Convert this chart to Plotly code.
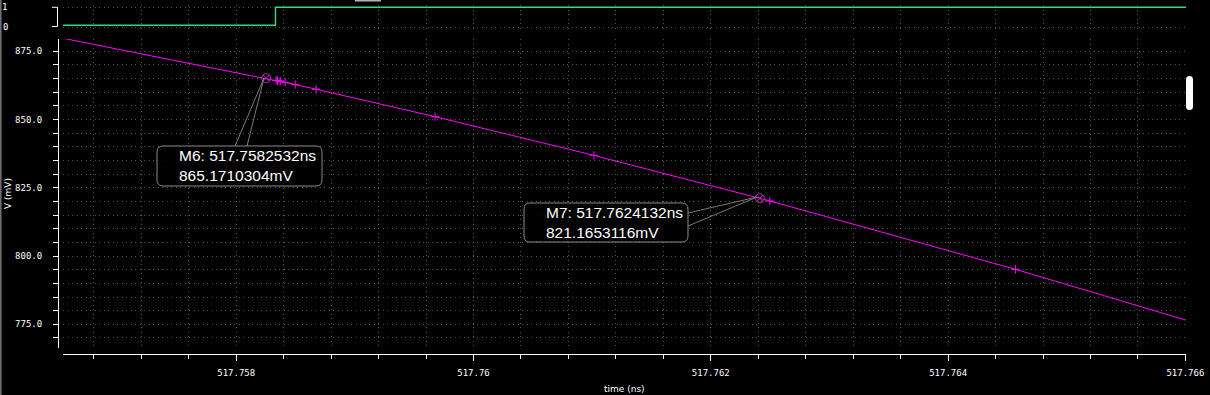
import plotly.graph_objects as go

W, H = 1210, 395

# ---- data ----
time_ns = [517.7560, 517.758337, 517.758348, 517.758371, 517.758413, 517.758497,
           517.758674, 517.759676, 517.761015, 517.762497, 517.764568, 517.7668]
voltage_mV = [884.44, 864.37, 864.26, 864.04, 863.63, 862.82,
              861.09, 851.05, 836.88, 820.19, 795.13, 766.25]

digital_time_ns = [517.7560, 517.758331, 517.7668]
digital_level = [0, 1, 1]

marker_names = ["M6", "M7"]
marker_time_ns = [517.7582532, 517.7624132]
marker_mV = [865.1710304, 821.1653116]

x_tick_vals = [517.758, 517.760, 517.762, 517.764, 517.766]
x_tick_text = ["517.758", "517.76", "517.762", "517.764", "517.766"]
y_tick_vals = [775, 800, 825, 850, 875]
y_tick_text = ["775.0", "800.0", "825.0", "850.0", "875.0"]
dig_tick_text = ["0", "1"]


def px(x):
    return x / W


def py(y):
    return 1 - y / H


GRID = "#555555"
DASH = "1px,3.5px"
TICKFONT = dict(family="DejaVu Sans Mono", size=9, color="white")

fig = go.Figure()

fig.add_trace(go.Scatter(
    x=time_ns, y=voltage_mV, mode="lines+markers",
    line=dict(color="#ff00ff", width=1),
    marker=dict(symbol="cross-thin", size=6, line=dict(color="#ff00ff", width=1)),
    xaxis="x", yaxis="y", showlegend=False, hoverinfo="skip"))

fig.add_trace(go.Scatter(
    x=marker_time_ns, y=marker_mV, mode="markers",
    marker=dict(symbol="circle-x-open", size=9, line=dict(color="#b02cb0", width=1), color="#b02cb0"),
    xaxis="x", yaxis="y", showlegend=False, hoverinfo="skip"))

fig.add_trace(go.Scatter(
    x=digital_time_ns, y=digital_level, mode="lines", line_shape="hv",
    line=dict(color="#3ad680", width=1.4),
    xaxis="x2", yaxis="y2", showlegend=False, hoverinfo="skip"))

xr = [517.75654, 517.766005]
xdom = [px(63), px(1186)]

fig.update_layout(
    width=W, height=H,
    margin=dict(l=0, r=0, t=0, b=0, autoexpand=False),
    paper_bgcolor="black", plot_bgcolor="black",
    xaxis=dict(
        domain=xdom, range=xr, anchor="free", position=py(354),
        showline=True, linecolor="white", linewidth=1,
        ticks="outside", ticklen=6, tickwidth=1, tickcolor="white",
        tickmode="array", tickvals=x_tick_vals, ticktext=x_tick_text,
        tickfont=TICKFONT, ticklabelstandoff=4,
        showgrid=True, gridcolor=GRID, griddash=DASH, gridwidth=1,
        minor=dict(tickmode="linear", tick0=517.758, dtick=0.0004, ticks="outside",
                   ticklen=4, tickwidth=1, tickcolor="white",
                   showgrid=True, gridcolor=GRID, griddash=DASH, gridwidth=1),
        zeroline=False, automargin=False, fixedrange=True),
    yaxis=dict(
        domain=[py(348), py(39)], range=[766.32, 879.5], anchor="free", position=px(58),
        showline=True, linecolor="white", linewidth=1,
        ticks="outside", ticklen=5, tickwidth=1, tickcolor="white",
        tickmode="array", tickvals=y_tick_vals, ticktext=y_tick_text,
        tickfont=TICKFONT, ticklabelstandoff=9,
        showgrid=True, gridcolor=GRID, griddash=DASH, gridwidth=1,
        minor=dict(tickmode="linear", tick0=775, dtick=5, ticks="outside",
                   ticklen=5, tickwidth=1, tickcolor="white",
                   showgrid=True, gridcolor=GRID, griddash=DASH, gridwidth=1),
        zeroline=False, automargin=False, fixedrange=True),
    xaxis2=dict(
        domain=xdom, range=xr, anchor="y2", showline=False, ticks="",
        showticklabels=False, showgrid=True, gridcolor=GRID, griddash=DASH,
        tickmode="linear", tick0=517.758, dtick=0.0004,
        zeroline=False, automargin=False, fixedrange=True),
    yaxis2=dict(
        domain=[py(29), py(5)], range=[-0.2056, 1.1278], anchor="x2",
        showline=False, ticks="", showticklabels=False,
        tickmode="array", tickvals=[-0.111, 1],
        showgrid=True, gridcolor=GRID, griddash=DASH,
        zeroline=False, automargin=False, fixedrange=True),
)

shapes = []
# top digital axis bracket
wline = dict(color="white", width=1)
shapes.append(dict(type="line", xref="paper", yref="paper", x0=px(52), x1=px(57.5), y0=py(7.3), y1=py(7.3), line=wline))
shapes.append(dict(type="line", xref="paper", yref="paper", x0=px(57.5), x1=px(57.5), y0=py(7.3), y1=py(26.5), line=wline))
shapes.append(dict(type="line", xref="paper", yref="paper", x0=px(52), x1=px(57.5), y0=py(26.5), y1=py(26.5), line=wline))
# left edge grey bar
shapes.append(dict(type="rect", xref="paper", yref="paper", x0=0, x1=px(1.6), y0=0, y1=1,
                   fillcolor="#6e6e6e", line=dict(width=0)))
# small grey rect top
shapes.append(dict(type="rect", xref="paper", yref="paper", x0=px(355), x1=px(381), y0=py(1.5), y1=1,
                   fillcolor="#b4b4b4", line=dict(width=0)))


def rrect(x0, y0, x1, y1, r):
    # rounded rectangle in pixel coords -> paper path
    def P(x, y):
        return f"{px(x):.6f},{py(y):.6f}"
    return (f"M {P(x0 + r, y0)} L {P(x1 - r, y0)} Q {P(x1, y0)} {P(x1, y0 + r)} "
            f"L {P(x1, y1 - r)} Q {P(x1, y1)} {P(x1 - r, y1)} L {P(x0 + r, y1)} "
            f"Q {P(x0, y1)} {P(x0, y1 - r)} L {P(x0, y0 + r)} Q {P(x0, y0)} {P(x0 + r, y0)} Z")


# right white scroll handle
shapes.append(dict(type="path", xref="paper", yref="paper", path=rrect(1186, 76, 1193, 110, 3.5),
                   fillcolor="white", line=dict(width=0)))

# marker callouts
gline = dict(color="#7a7a7a", width=1)
callouts = [
    dict(box=(157, 146, 322, 186), legs=[(235, 146), (247, 146)], tip=(264, 78), text_xy=(177, 165)),
    dict(box=(524, 203, 688, 242), legs=[(688, 213), (688, 226)], tip=(757, 197), text_xy=(544, 222)),
]
for c in callouts:
    for lx, ly in c["legs"]:
        shapes.append(dict(type="line", xref="paper", yref="paper",
                           x0=px(lx), y0=py(ly), x1=px(c["tip"][0]), y1=py(c["tip"][1]), line=gline))
    bx0, by0, bx1, by1 = c["box"]
    shapes.append(dict(type="path", xref="paper", yref="paper", path=rrect(bx0, by0, bx1, by1, 6),
                       fillcolor="rgba(0,0,0,0.85)", line=dict(color="#8a8a8a", width=1)))

fig.update_layout(shapes=shapes)

ann = []
for name, t, v, c in zip(marker_names, marker_time_ns, marker_mV, callouts):
    ann.append(dict(xref="paper", yref="paper", x=px(c["text_xy"][0]), y=py(c["text_xy"][1]),
                    xanchor="left", yanchor="middle", align="left", showarrow=False,
                    text=f"{name}: {t:.7f}ns<br>{v:.7f}mV",
                    font=dict(family="Liberation Sans", size=15.5, color="white")))
# digital axis labels
ann.append(dict(xref="paper", yref="paper", x=px(4.5), y=py(7.5), text=dig_tick_text[1], showarrow=False,
                xanchor="center", yanchor="middle", font=TICKFONT))
ann.append(dict(xref="paper", yref="paper", x=px(5), y=py(26.5), text=dig_tick_text[0], showarrow=False,
                xanchor="center", yanchor="middle", font=TICKFONT))
# axis titles
ann.append(dict(xref="paper", yref="paper", x=px(624), y=py(389), text="time (ns)", showarrow=False,
                xanchor="center", yanchor="middle", font=dict(family="DejaVu Sans", size=9, color="white")))
ann.append(dict(xref="paper", yref="paper", x=px(8), y=py(194), text="V (mV)", showarrow=False, textangle=-90,
                xanchor="center", yanchor="middle", font=dict(family="DejaVu Sans", size=9, color="white")))
fig.update_layout(annotations=ann)

fig.write_html("out.html", config=dict(displayModeBar=False))
